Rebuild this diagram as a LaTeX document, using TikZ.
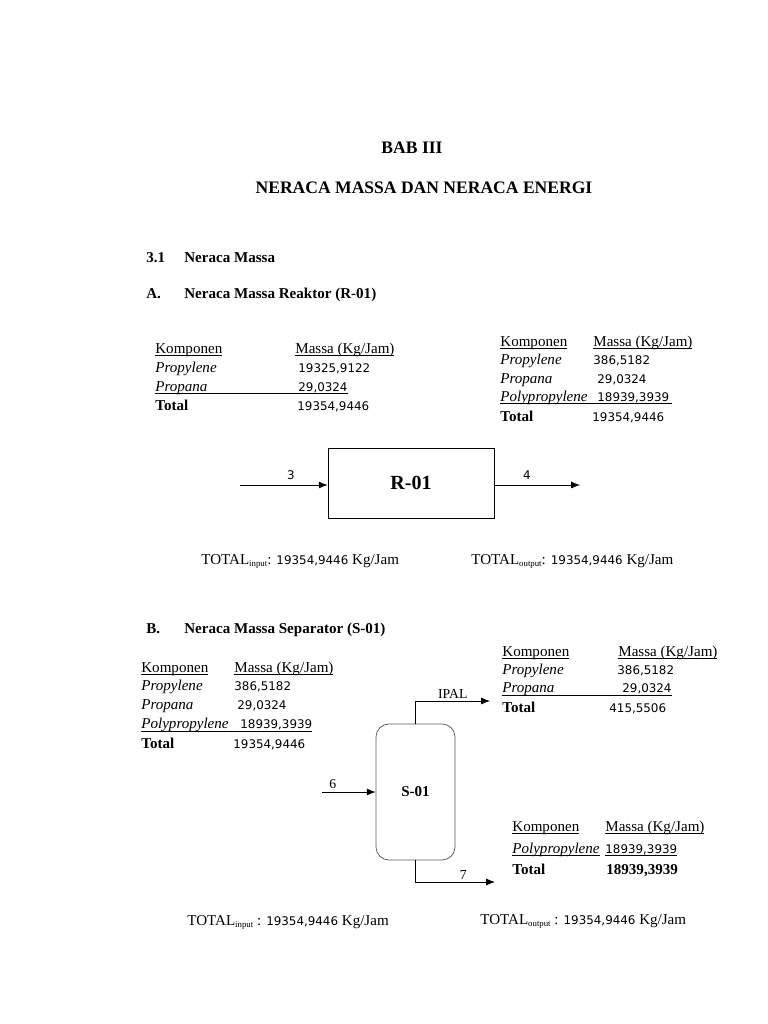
\documentclass[12pt,tikz,border=0pt]{standalone}
\usepackage{fontspec}
\setmainfont{Liberation Serif}
\newfontfamily\numfont{DejaVu Sans}[Scale=0.79]
\usetikzlibrary{arrows.meta, positioning}

\newcommand\garis[1]{\setbox0\hbox{#1}\rlap{\rule[-1.8pt]{\wd0}{0.5pt}}\box0}
\newcommand\indeks[1]{\raisebox{-0.35ex}{\fontsize{7}{7}\selectfont #1}}

\begin{document}
\begin{tikzpicture}[x=0.797pt, y=-0.797pt, >={Latex[length=7pt,width=5.5pt]}, line width=0.6pt,
  txt/.style={anchor=base west, inner sep=0pt},
  hdr/.style={anchor=base, inner sep=0pt, font=\fontsize{14}{16}\selectfont\bfseries},
  lbl/.style={inner sep=1pt, font=\numfont}]
  \useasboundingbox (0,0) rectangle (768,1024);

  % judul
  \node[hdr] (bab) at (412,153) {BAB III};
  \node[hdr] (judul) at (424,193) {NERACA MASSA DAN NERACA ENERGI};
  \node[txt, font=\bfseries] (s31) at (146,262) {3.1};
  \node[txt, font=\bfseries] (s31t) at (184,262) {Neraca Massa};
  \node[txt, font=\bfseries] (sA) at (146,298) {A.};
  \node[txt, font=\bfseries] (sAt) at (184,298) {Neraca Massa Reaktor (R-01)};

  % R-01 input
  \node[txt] (k1) at (155,353) {\garis{Komponen}};
  \node[txt] (m1) at (295,353) {\garis{Massa (Kg/Jam)}};
  \node[txt] (k1a) at (155,372) {\itshape Propylene};
  \node[txt] (m1a) at (298,372) {\numfont 19325,9122};
  \node[txt] (k1b) at (155,391) {\itshape Propana};
  \node[txt] (m1b) at (298,391) {\numfont 29,0324};
  \draw[line width=0.5pt] (155,393) -- (348,393);
  \node[txt, font=\bfseries] (k1t) at (155,410) {Total};
  \node[txt] (m1t) at (297,410) {\numfont 19354,9446};

  % R-01 output
  \node[txt] (k2) at (500,346) {\garis{Komponen}};
  \node[txt] (m2) at (593,346) {\garis{Massa (Kg/Jam)}};
  \node[txt] (k2a) at (500,364) {\itshape Propylene};
  \node[txt] (m2a) at (593,364) {\numfont 386,5182};
  \node[txt] (k2b) at (500,383) {\itshape Propana};
  \node[txt] (m2b) at (597,383) {\numfont 29,0324};
  \node[txt] (k2c) at (500,401) {\itshape Polypropylene};
  \node[txt] (m2c) at (597,401) {\numfont 18939,3939};
  \draw[line width=0.5pt] (500,403.5) -- (672,403.5);
  \node[txt, font=\bfseries] (k2t) at (500,421) {Total};
  \node[txt] (m2t) at (592,421) {\numfont 19354,9446};

  % reaktor
  \node[draw, minimum width=132.3pt, minimum height=55.8pt, font=\fontsize{16}{18}\selectfont\bfseries] (reak) at (411,483) {R-01};
  \coordinate (in3) at (240,485);
  \coordinate (out4) at (580,485);
  \draw[->] (in3) -- node[lbl, pos=0.58, above=3pt] {3} (in3 -| reak.west);
  \draw[->] (out4 -| reak.east) -- node[lbl, pos=0.38, above=3pt] {4} (out4);

  \node[txt] (tin1) at (201,564) {TOTAL\indeks{input}: {\numfont 19354,9446} Kg/Jam};
  \node[txt] (tout1) at (471,564) {TOTAL\indeks{output}: {\numfont 19354,9446} Kg/Jam};

  % separator
  \node[txt, font=\bfseries] (sB) at (146,633) {B.};
  \node[txt, font=\bfseries] (sBt) at (184,633) {Neraca Massa Separator (S-01)};

  % S-01 input
  \node[txt] (k3) at (141,672) {\garis{Komponen}};
  \node[txt] (m3) at (234,672) {\garis{Massa (Kg/Jam)}};
  \node[txt] (k3a) at (141,690) {\itshape Propylene};
  \node[txt] (m3a) at (234,690) {\numfont 386,5182};
  \node[txt] (k3b) at (141,709) {\itshape Propana};
  \node[txt] (m3b) at (237,709) {\numfont 29,0324};
  \node[txt] (k3c) at (141,728) {\itshape Polypropylene};
  \node[txt] (m3c) at (240,728) {\numfont 18939,3939};
  \draw[line width=0.5pt] (141,731.5) -- (312,731.5);
  \node[txt, font=\bfseries] (k3t) at (141,748) {Total};
  \node[txt] (m3t) at (233,748) {\numfont 19354,9446};

  % S-01 output atas
  \node[txt] (k4) at (502,656) {\garis{Komponen}};
  \node[txt] (m4) at (618,656) {\garis{Massa (Kg/Jam)}};
  \node[txt] (k4a) at (502,674) {\itshape Propylene};
  \node[txt] (m4a) at (617,674) {\numfont 386,5182};
  \node[txt] (k4b) at (502,692) {\itshape Propana};
  \node[txt] (m4b) at (622,692) {\numfont 29,0324};
  \draw[line width=0.5pt] (502,695) -- (672,695);
  \node[txt, font=\bfseries] (k4t) at (502,712) {Total};
  \node[txt] (m4t) at (609,712) {\numfont 415,5506};

  % S-01 output bawah
  \node[txt] (k5) at (512,831) {\garis{Komponen}};
  \node[txt] (m5) at (605,831) {\garis{Massa (Kg/Jam)}};
  \node[txt] (k5a) at (512,853) {\garis{\itshape Polypropylene}};
  \node[txt] (m5a) at (605,853) {\garis{\numfont 18939,3939}};
  \node[txt, font=\bfseries] (k5t) at (512,874) {Total};
  \node[txt, font=\bfseries] (m5t) at (606,874) {18939,3939};

  \node[draw=black!65, rounded corners=10.4pt, minimum width=63pt, minimum height=108.4pt, font=\bfseries] (sep) at (415.5,792) {S-01};
  \coordinate (in6) at (322,792);
  \coordinate (ipal) at (490,701);
  \coordinate (out7) at (495,882);
  \draw[->] (in6) -- node[pos=0.2, above=1pt, inner sep=1pt, font=\small] {6} (in6 -| sep.west);
  \draw[->] (sep.north) |- node[pos=0.75, above=1pt, inner sep=1pt, font=\small] {IPAL} (ipal);
  \draw[->] (sep.south) |- node[pos=0.8, above=1pt, inner sep=1pt, font=\small] {7} (out7);

  \node[txt] (tin2) at (187,925) {TOTAL\indeks{input} : {\numfont 19354,9446} Kg/Jam};
  \node[txt] (tout2) at (480,924) {TOTAL\indeks{output} : {\numfont 19354,9446} Kg/Jam};
\end{tikzpicture}
\end{document}
